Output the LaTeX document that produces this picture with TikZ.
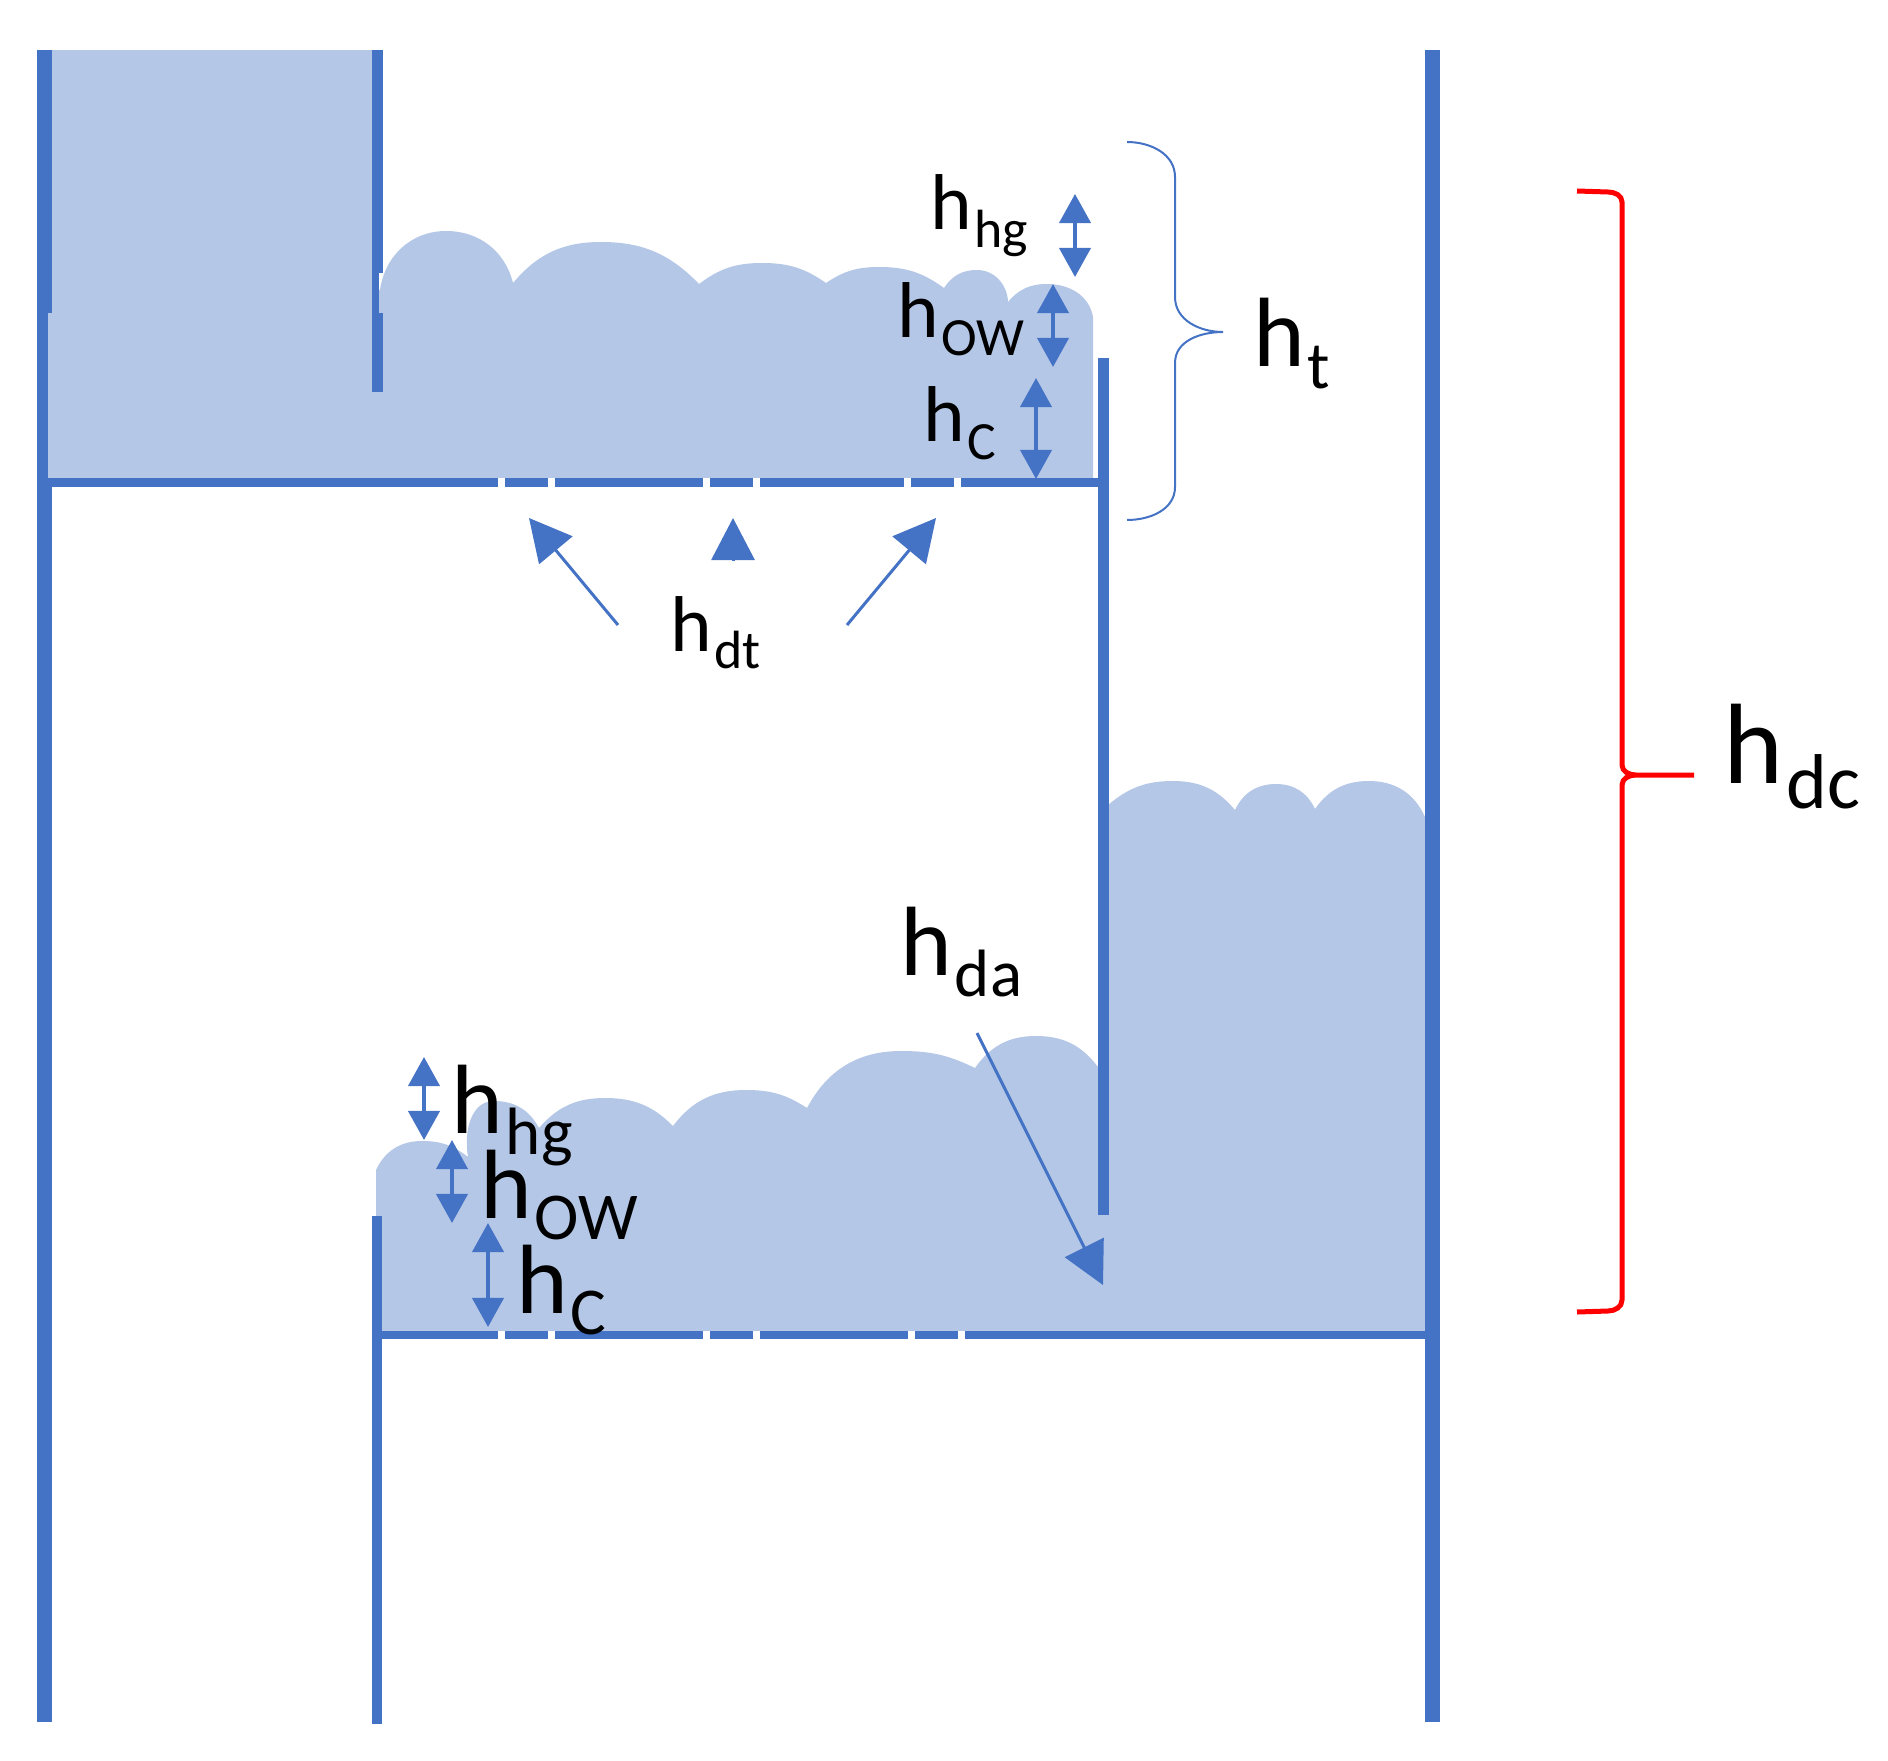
\documentclass[tikz,border=0pt]{standalone}
\usepackage{fontspec}
\usepackage{graphicx}
\usepackage{xcolor}
\usetikzlibrary{arrows.meta}
\setmainfont{Carlito}

\definecolor{wallblue}{HTML}{4472C4}
\definecolor{liquidblue}{HTML}{B4C7E7}
\newcommand{\hsub}[1]{h\kern.025em\raisebox{-.22em}{\scalebox{.68}{#1}}}

\tikzset{
    wall/.style={fill=wallblue},
    liquid/.style={fill=liquidblue},
    riseat/.style={out=#1,in=180},
    fallat/.style={out=0,in=#1},
    dimarrow/.style={wallblue, line width=.04cm, {Triangle[length=.29cm,width=.31cm]}-{Triangle[length=.29cm,width=.31cm]}},
    headarrow/.style={wallblue, line width=.03cm, -{Triangle[length=.42cm,width=.43cm]}},
    smalllabel/.style={anchor=base west, inner sep=0pt, font=\fontsize{22.5}{24}\selectfont},
    largelabel/.style={anchor=base west, inner sep=0pt, font=\fontsize{28}{30}\selectfont},
}

\begin{document}
\begin{tikzpicture}[x=.01cm, y=-.01cm]
    \useasboundingbox (0,0) rectangle (1888,1761);

    % Liquid on the upper tray
    \path[liquid] (52,50) rectangle (372,313);
    \path[liquid] (48,313) rectangle (373,478);
    \path[liquid] (372,478) -- (372,290) -- (380,290)
        to[riseat=82] (446,231) to[fallat=104] (513,283)
        to[riseat=50] (601,242) to[fallat=134] (699,284)
        to[riseat=37] (762,263) to[fallat=145] (826,283)
        to[riseat=34] (879,267) to[fallat=144] (944,288)
        to[riseat=57] (977,270) to[fallat=92] (1008,302)
        to[riseat=50] (1047,284) to[fallat=100] (1093,317)
        -- (1093,478) -- cycle;

    % Liquid on the lower tray
    \path[liquid] (376,1331) -- (376,1170)
        to[riseat=65] (422,1141) to[fallat=142] (468,1157)
        to[riseat=100] (494,1101) to[fallat=118] (539,1128)
        to[riseat=49] (605,1098) to[fallat=135] (673,1126)
        to[riseat=53] (746,1090) to[fallat=147] (807,1108)
        to[riseat=62] (901,1051) to[fallat=154] (975,1068)
        to[riseat=55] (1036,1036) to[fallat=127] (1098,1067)
        -- (1098,1331) -- cycle;

    % Liquid in the downcomer
    \path[liquid] (1098,1331) -- (1098,805) -- (1108,805)
        to[riseat=40] (1173,781) to[fallat=130] (1235,810)
        to[riseat=65] (1276,784) to[fallat=115] (1315,809)
        to[riseat=55] (1369,781) to[fallat=114] (1425,817)
        -- (1425,1331) -- cycle;

    % Column walls
    \path[wall] (37,50) rectangle (52,313);
    \path[wall] (37,313) rectangle (48,486);
    \path[wall] (37,486) rectangle (52,1722);
    \path[wall] (372,50) rectangle (383,273);
    \path[wall] (372,273) rectangle (379,313);
    \path[wall] (372,313) rectangle (383,392);
    \path[wall] (372,1216) rectangle (382,1724);
    \path[wall] (1098,358) rectangle (1109,1215);
    \path[wall] (1425,50) rectangle (1440,1722);

    % Trays with their holes
    \path[wall] (48,478) rectangle (1098,487);
    \path[wall] (372,1331) rectangle (1425,1339);
    \foreach \x in {498,548,703,753,904,954} {
        \fill[white] (\x,478) rectangle (\x+7,487);
    }
    \foreach \x in {498,548,703,753,908,958} {
        \fill[white] (\x,1331) rectangle (\x+7,1339);
    }

    % Height arrows, upper tray
    \draw[dimarrow] (1075,194) -- (1075,277);
    \draw[dimarrow] (1053,284) -- (1053,367);
    \draw[dimarrow] (1036,378) -- (1036,479);

    % Height arrows, lower tray
    \draw[dimarrow] (424,1057) -- (424,1140);
    \draw[dimarrow] (452,1140) -- (452,1223);
    \draw[dimarrow] (488,1223) -- (488,1327);

    % Arrows to the holes and under the downcomer
    \draw[headarrow] (618,625) -- (529,518);
    \draw[headarrow] (733,561) -- (733,518);
    \draw[headarrow] (847,625) -- (936,518);
    \draw[headarrow] (977,1033) -- (1103,1285);

    % Braces
    \draw[wallblue, line width=.02cm] (1127,142) to[out=0,in=90] (1175,177) -- (1175,297)
        to[out=-90,in=180] (1223,332) to[out=180,in=90] (1175,363) -- (1175,487)
        to[out=-90,in=0] (1127,520);
    \draw[red, line width=.05cm] (1577,191) -- (1608,192) to[out=0,in=90] (1622,202) -- (1622,765)
        to[out=-90,in=180] (1636,775) -- (1694,775) -- (1636,775) to[out=180,in=90] (1622,785)
        -- (1622,1300) to[out=-90,in=0] (1608,1311) -- (1577,1312);

    % Labels
    \node (hgtop) [smalllabel] at (930,230) {\hsub{hg}};
    \node (owtop) [smalllabel] at (897,338) {\hsub{OW}};
    \node (ctop) [smalllabel] at (923,442) {\hsub{C}};
    \node (ht) [largelabel] at (1253,367) {\hsub{t}};
    \node (hdt) [smalllabel] at (670,651) {\hsub{dt}};
    \node (hda) [largelabel] at (900,975) {\hsub{da}};
    \node (hdc) [largelabel, font=\fontsize{32.5}{34}\selectfont] at (1723,783) {\hsub{dc}};
    \node (hgbot) [largelabel] at (451,1133) {\hsub{hg}};
    \node (owbot) [largelabel] at (480,1218) {\hsub{OW}};
    \node (cbot) [largelabel] at (516,1313) {\hsub{C}};
\end{tikzpicture}
\end{document}
